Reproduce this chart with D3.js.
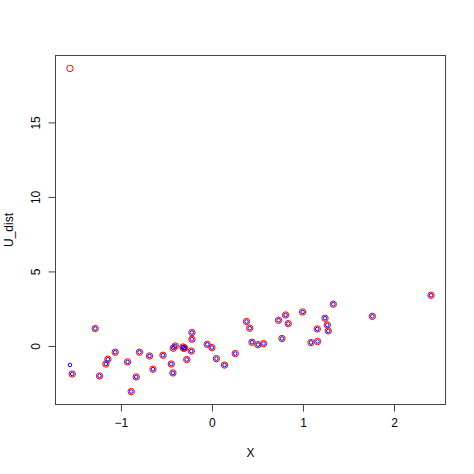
<!DOCTYPE html>
<html lang='en'>
<head>
  <meta charset='UTF-8'>
  <title>U_dist vs X</title>
  <script src='https://cdnjs.cloudflare.com/ajax/libs/d3/7.8.5/d3.min.js'></script>
  <style>
    body { margin: 0; background: #fff; }
    svg { display: block; font-family: 'Liberation Sans', Arial, sans-serif; }
  </style>
</head>
<body>
  <svg width='474' height='474'></svg>
  <script>
    // values
    var xVals = [-1.560, -1.535, -1.282, -1.235, -1.165, -1.143, -1.063, -0.927, -0.887, -0.832,
                 -0.796, -0.686, -0.648, -0.538, -0.447, -0.429, -0.425, -0.403, -0.319, -0.300,
                 -0.310, -0.277, -0.227, -0.220, -0.220, -0.052, 0.000, 0.049, 0.138, 0.256,
                 0.380, 0.415, 0.440, 0.505, 0.567, 0.732, 0.769, 0.809, 0.838, 0.996,
                 1.088, 1.157, 1.160, 1.242, 1.267, 1.278, 1.333, 1.762, 2.407];
    // U_dist (red) – first value is the contaminated one
    var uDist = [18.62, -1.88, 1.17, -2.01, -1.21, -0.89, -0.42, -1.07, -3.06, -2.08,
                 -0.42, -0.67, -1.56, -0.62, -1.21, -1.81, -0.15, 0.00, -0.07, -0.13,
                 -0.16, -0.91, -0.34, 0.45, 0.90, 0.11, -0.11, -0.85, -1.28, -0.51,
                 1.64, 1.19, 0.25, 0.09, 0.16, 1.72, 0.50, 2.08, 1.50, 2.28,
                 0.23, 1.14, 0.30, 1.86, 1.41, 1.01, 2.80, 1.99, 3.40];
    // U (blue)
    var uVals = [-1.27, -1.88, 1.17, -2.01, -1.21, -0.89, -0.42, -1.07, -3.06, -2.08,
                 -0.42, -0.67, -1.56, -0.62, -1.21, -1.81, -0.15, 0.00, -0.07, -0.13,
                 -0.16, -0.91, -0.34, 0.45, 0.90, 0.11, -0.11, -0.85, -1.28, -0.51,
                 1.64, 1.19, 0.25, 0.09, 0.16, 1.72, 0.50, 2.08, 1.50, 2.28,
                 0.23, 1.14, 0.30, 1.86, 1.41, 1.01, 2.80, 1.99, 3.40];
    var xTicks = [-1, 0, 1, 2];
    var yTicks = [0, 5, 10, 15];

    var svg = d3.select('svg'),
      box = {left: 55.5, right: 445.5, top: 55.5, bottom: 404.5};

    // R style 4% padding around the data range
    function pad(ext) {
      var r = ext[1] - ext[0];
      return [ext[0] - 0.04 * r, ext[1] + 0.04 * r];
    }
    var x = d3.scaleLinear()
      .domain(pad(d3.extent(xVals)))
      .range([box.left, box.right]);
    var y = d3.scaleLinear()
      .domain(pad(d3.extent(uDist.concat(uVals))))
      .range([box.bottom, box.top]);

    var axisColor = '#444';

    svg.append('rect')
      .attr('x', box.left).attr('y', box.top)
      .attr('width', box.right - box.left)
      .attr('height', box.bottom - box.top)
      .attr('fill', 'none')
      .attr('stroke', axisColor)
      .attr('stroke-width', 1);

    var gx = svg.append('g')
      .attr('transform', 'translate(0,' + box.bottom + ')')
      .call(d3.axisBottom(x).tickValues(xTicks).tickSize(7).tickPadding(7).tickFormat(d3.format('d')));
    gx.select('.domain').remove();

    var gy = svg.append('g')
      .attr('transform', 'translate(' + box.left + ',0)')
      .call(d3.axisLeft(y).tickValues(yTicks).tickSize(7).tickFormat(d3.format('d')));
    gy.select('.domain').remove();
    gy.selectAll('.tick text')
      .attr('x', -20).attr('dy', '0.35em')
      .attr('text-anchor', 'middle')
      .attr('transform', function() {
        return 'rotate(-90,-20,0)';
      });

    svg.selectAll('.tick line').attr('stroke', axisColor);
    svg.selectAll('.tick text')
      .attr('fill', '#000')
      .style('font-size', '12px')
      .style('font-family', "'Liberation Sans', Arial, sans-serif");

    svg.append('text')
      .attr('x', (box.left + box.right) / 2)
      .attr('y', 457)
      .attr('text-anchor', 'middle')
      .style('font-size', '12px')
      .text('X');

    svg.append('text')
      .attr('transform', 'translate(13,' + (box.top + box.bottom) / 2 + ') rotate(-90)')
      .attr('text-anchor', 'middle')
      .style('font-size', '12px')
      .text('U_dist');

    svg.append('g').selectAll('circle')
      .data(xVals)
      .enter().append('circle')
      .attr('cx', function(d) { return x(d); })
      .attr('cy', function(d, i) { return y(uDist[i]); })
      .attr('r', 3.2)
      .attr('fill', 'none')
      .attr('stroke', 'red')
      .attr('stroke-width', 1);

    svg.append('g').selectAll('circle')
      .data(xVals)
      .enter().append('circle')
      .attr('cx', function(d) { return x(d); })
      .attr('cy', function(d, i) { return y(uVals[i]); })
      .attr('r', 1.8)
      .attr('fill', 'none')
      .attr('stroke', 'blue')
      .attr('stroke-width', 1);
  </script>
</body>
</html>
